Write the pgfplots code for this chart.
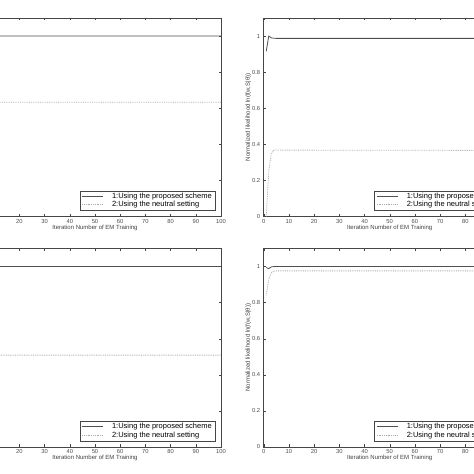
\documentclass[border=0pt]{standalone}
\usepackage{fontspec}
\setmainfont{Liberation Sans}
\usepackage{pgfplots}
\pgfplotsset{compat=1.18}

\definecolor{curveA}{RGB}{80,80,80}
\definecolor{curveB}{RGB}{170,170,170}
\definecolor{axisgray}{RGB}{70,70,70}

\pgfplotsset{
  emplot/.style={
    scale only axis,
    width=252pt, height=198.5pt,
    anchor=south west,
    xmin=0, xmax=100, ymin=0, ymax=1.1,
    xtick={0,10,...,100},
    ytick={0,0.2,0.4,0.6,0.8,1},
    yticklabels={0,0.2,0.4,0.6,0.8,1},
    tick align=inside, tick pos=both,
    major tick length=2.5pt,
    axis line style={axisgray, line width=0.6pt},
    every tick/.style={axisgray, line width=0.4pt},
    tick label style={font=\fontsize{5.8}{6}\selectfont, text=black!70},
    /pgf/number format/assume math mode=true,
    xticklabel style={yshift=1pt},
    xlabel={Iteration Number of EM Training},
    xlabel style={font=\fontsize{6}{7}\selectfont, text=black!75, yshift=5pt},
    ylabel={Normalized likelihood ln(f(w,S|θ))},
    ylabel style={font=\fontsize{6}{7}\selectfont, text=black!75, yshift=-6pt},
    legend cell align=left,
    legend style={
      at={(0.978,0.03)}, anchor=south east,
      draw=axisgray, line width=0.5pt,
      font=\fontsize{7.5}{8}\selectfont,
      inner xsep=2pt, inner ysep=0.5pt,
      row sep=-1.5pt,
      nodes={inner sep=1.5pt},
    },
    legend image code/.code={\draw[#1] (0pt,0pt) -- (21pt,0pt);},
  },
  % left panels: their left part lies outside the crop
  leftpanel/.style={
    xticklabels={,,20,30,40,50,60,70,80,90,100},
    yticklabels={},
    ylabel={},
  },
  % right panels: their right part lies outside the crop
  rightpanel/.style={
    xticklabels={0,10,20,30,40,50,60,70,80,,},
  },
  lineA/.style={curveA, line width=0.8pt},
  lineB/.style={curveB, line width=0.8pt, densely dotted},
}

\begin{document}
\begin{tikzpicture}[x=1pt,y=1pt]
\path[use as bounding box, clip] (0,0) rectangle (474,474);

% top left
\begin{axis}[emplot, leftpanel, at={(-31pt,257.5pt)}]
\addplot [lineA] coordinates {(1,0.99) (2,1.0) (3,1.0) (100,1.0)};
\addlegendentry{\hspace{7pt}1:Using the proposed scheme}
\addplot [lineB] coordinates {(1,0.2) (2,0.5) (3,0.62) (4,0.633) (100,0.633)};
\addlegendentry{\hspace{7pt}2:Using the neutral setting}
\end{axis}

% top right
\begin{axis}[emplot, rightpanel, at={(263.7pt,257.5pt)}]
\addplot [lineA] coordinates {(1,0.915) (2,1.0) (3,0.99) (4,0.988) (5,0.987) (100,0.987)};
\addlegendentry{\hspace{7pt}1:Using the proposed scheme}
\addplot [lineB] coordinates {(1,0) (2,0.25) (3,0.35) (4,0.368) (100,0.366)};
\addlegendentry{\hspace{7pt}2:Using the neutral setting}
\end{axis}

% bottom left
\begin{axis}[emplot, leftpanel, at={(-31pt,27pt)}]
\addplot [lineA] coordinates {(1,0.99) (2,1.0) (3,1.0) (100,1.0)};
\addlegendentry{\hspace{7pt}1:Using the proposed scheme}
\addplot [lineB] coordinates {(1,0.2) (2,0.45) (3,0.5) (4,0.509) (100,0.509)};
\addlegendentry{\hspace{7pt}2:Using the neutral setting}
\end{axis}

% bottom right
\begin{axis}[emplot, rightpanel, at={(263.7pt,27pt)}]
\addplot [lineA] coordinates {(1,0.995) (2,0.988) (3,0.998) (4,1.0) (100,1.0)};
\addlegendentry{\hspace{7pt}1:Using the proposed scheme}
\addplot [lineB] coordinates {(1,0.84) (2,0.93) (3,0.965) (4,0.975) (5,0.976) (100,0.976)};
\addlegendentry{\hspace{7pt}2:Using the neutral setting}
\end{axis}
\end{tikzpicture}
\end{document}
